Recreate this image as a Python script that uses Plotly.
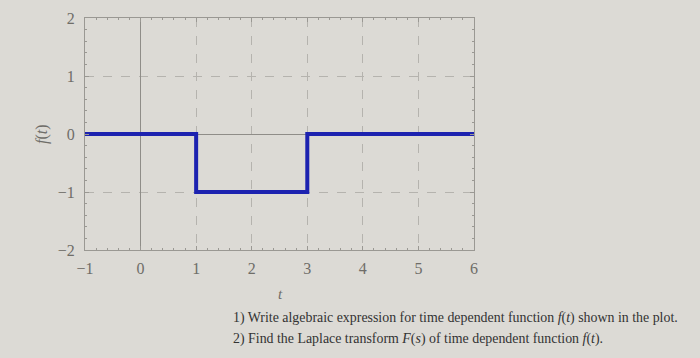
import plotly.graph_objects as go

t_vals = [-1, 1, 1, 3, 3, 6]
f_vals = [0, 0, -1, -1, 0, 0]
x_ticks = [-1, 0, 1, 2, 3, 4, 5, 6]
y_ticks = [-2, -1, 0, 1, 2]
question_lines = [
    "1) Write algebraic expression for time dependent function <i>f</i>(<i>t</i>) shown in the plot.",
    "2) Find the Laplace transform <i>F</i>(<i>s</i>) of time dependent function <i>f</i>(<i>t</i>).",
]

bg = "#dcdad5"
grid = "#b5b3ae"
frame = "#9a9893"
tickc = "#6f6d68"
serif = "Liberation Serif, Times New Roman, serif"

L, R, T, B = 85, 474, 10, 250
W = R - L
H = B - T

fig = go.Figure()
fig.add_trace(go.Scatter(x=t_vals, y=f_vals, mode="lines",
                         line=dict(color="#1c22b0", width=4), showlegend=False,
                         cliponaxis=False))

axis_common = dict(
    showline=True, linecolor=frame, linewidth=1, mirror="ticks",
    ticks="inside", ticklen=4, tickcolor=frame,
    showgrid=True, gridcolor=grid, griddash="dash", gridwidth=1,
    zeroline=True, zerolinecolor="#8f8d88", zerolinewidth=1,
    tickfont=dict(family=serif, size=16, color=tickc),
    minor=dict(ticks="inside", ticklen=2, tickcolor=frame, dtick=0.2, showgrid=False),
)
fig.update_xaxes(range=[-1, 6], tickvals=x_ticks, ticklabelstandoff=4, **axis_common)
fig.update_yaxes(range=[-2, 2], tickvals=y_ticks, ticklabelstandoff=6, **axis_common)

annotations = [
    dict(text="<i>t</i>", x=(280 - L) / W, y=(B - 296) / H, xref="paper", yref="paper",
         xanchor="center", yanchor="middle",
         showarrow=False, font=dict(family=serif, size=15, color=tickc)),
    dict(text="<i>f</i>(<i>t</i>)", x=(42 - L) / W, y=(B - 130) / H, xref="paper", yref="paper",
         xanchor="center", yanchor="middle",
         showarrow=False, textangle=-90, font=dict(family=serif, size=16, color=tickc)),
]
for i, line in enumerate(question_lines):
    annotations.append(dict(text=line, x=(231 - L) / W, y=(B - (320 + 22 * i)) / H,
                            xref="paper", yref="paper", xanchor="left", yanchor="middle",
                            showarrow=False, font=dict(family=serif, size=13.9, color="#333333")))

fig.update_layout(
    width=700, height=358, margin=dict(l=L, r=700 - R, t=T, b=358 - B),
    paper_bgcolor=bg, plot_bgcolor=bg, annotations=annotations,
)
fig.write_html("out.html")
